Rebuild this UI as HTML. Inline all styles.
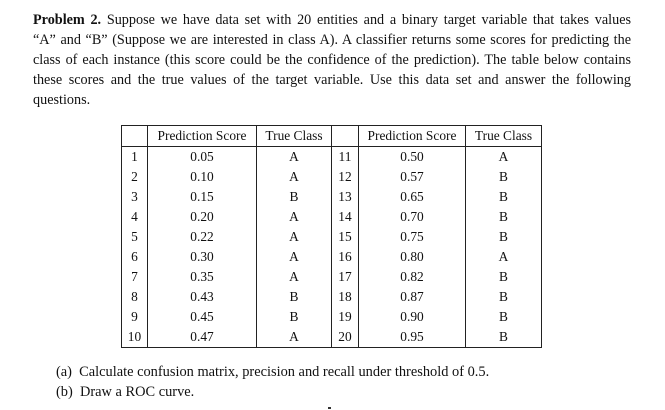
<!DOCTYPE html>
<html><head><style>
html,body{margin:0;padding:0;background:#fff;width:665px;height:410px;overflow:hidden}
body{position:relative;font-family:"Liberation Serif",serif;color:#111;font-size:14.2px}
.p{position:absolute;left:33px;width:598px;text-align:justify;text-align-last:justify;line-height:20px;white-space:nowrap}
table{position:absolute;left:121px;top:125px;border-collapse:collapse;font-size:13.4px}
td{border-left:1.3px solid #222;border-right:1.3px solid #222;text-align:center;height:20px;padding:0;line-height:20px}
tr.h td{border-bottom:1.3px solid #222;height:20px}
table{border:1.6px solid #222}
.q{position:absolute;left:56px;line-height:20px;white-space:nowrap;font-size:14.4px}
</style></head><body>
<div class="p" style="top:10px"><b>Problem 2.</b> Suppose we have data set with 20 entities and a binary target variable that takes values</div>
<div class="p" style="top:30px">“A” and “B” (Suppose we are interested in class A). A classifier returns some scores for predicting the</div>
<div class="p" style="top:50px">class of each instance (this score could be the confidence of the prediction). The table below contains</div>
<div class="p" style="top:70px">these scores and the true values of the target variable. Use this data set and answer the following</div>
<div class="p" style="top:90px;text-align-last:left">questions.</div>
<table>
<colgroup><col style="width:26px"><col style="width:109px"><col style="width:75px"><col style="width:27px"><col style="width:107px"><col style="width:76px"></colgroup>
<tr class="h"><td></td><td>Prediction Score</td><td>True Class</td><td></td><td>Prediction Score</td><td>True Class</td></tr>
<tr><td>1</td><td>0.05</td><td>A</td><td>11</td><td>0.50</td><td>A</td></tr>
<tr><td>2</td><td>0.10</td><td>A</td><td>12</td><td>0.57</td><td>B</td></tr>
<tr><td>3</td><td>0.15</td><td>B</td><td>13</td><td>0.65</td><td>B</td></tr>
<tr><td>4</td><td>0.20</td><td>A</td><td>14</td><td>0.70</td><td>B</td></tr>
<tr><td>5</td><td>0.22</td><td>A</td><td>15</td><td>0.75</td><td>B</td></tr>
<tr><td>6</td><td>0.30</td><td>A</td><td>16</td><td>0.80</td><td>A</td></tr>
<tr><td>7</td><td>0.35</td><td>A</td><td>17</td><td>0.82</td><td>B</td></tr>
<tr><td>8</td><td>0.43</td><td>B</td><td>18</td><td>0.87</td><td>B</td></tr>
<tr><td>9</td><td>0.45</td><td>B</td><td>19</td><td>0.90</td><td>B</td></tr>
<tr><td>10</td><td>0.47</td><td>A</td><td>20</td><td>0.95</td><td>B</td></tr>
</table>
<div class="q" style="top:362px">(a)&nbsp; Calculate confusion matrix, precision and recall under threshold of 0.5.</div>
<div class="q" style="top:382px">(b)&nbsp; Draw a ROC curve.</div>
<div style="position:absolute;left:328px;top:407px;width:3px;height:2px;background:#333"></div>
</body></html>
